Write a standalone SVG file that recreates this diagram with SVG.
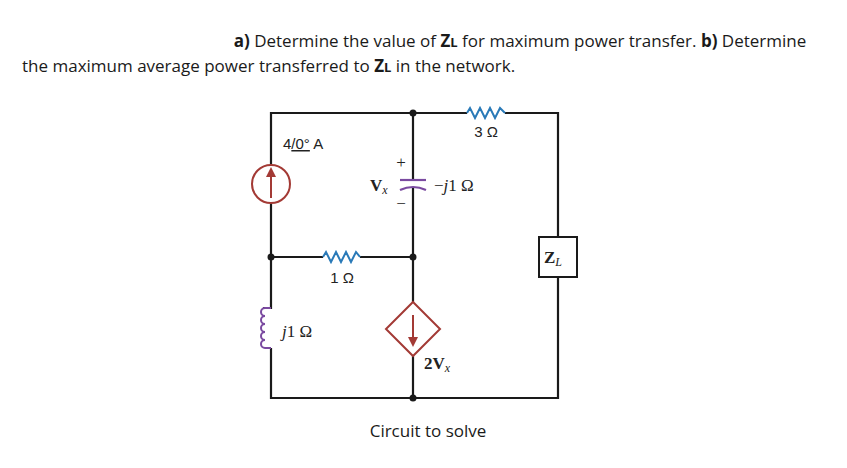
<svg xmlns="http://www.w3.org/2000/svg" width="847" height="468" viewBox="0 0 847 468">
<style>
.w{stroke:#1a1a1a;stroke-width:2.2;fill:none}
.t{font-family:"Open Sans","Liberation Sans",sans-serif;font-size:17px;fill:#1a1a1a}
.c{font-family:"Liberation Serif",serif;font-size:17px;fill:#222}
.s{font-family:"Liberation Sans",sans-serif;font-size:15px;fill:#222}
.res{stroke:#2a7ab8;stroke-width:2;fill:none}
.red{stroke:#a33a35;stroke-width:2;fill:#fff}
</style>
<defs><marker id="ah" viewBox="0 0 10 10" refX="5" refY="5" markerWidth="5" markerHeight="5" orient="auto"><path d="M0,0L10,5L0,10z" fill="#a33a35"/></marker></defs>
<rect width="847" height="468" fill="#fff"/>
<text class="t" x="520" y="47" text-anchor="middle"><tspan font-weight="bold">a)</tspan> Determine the value of <tspan font-weight="bold">Z<tspan font-size="13">L</tspan></tspan> for maximum power transfer. <tspan font-weight="bold">b)</tspan> Determine</text>
<text class="t" x="22" y="72">the maximum average power transferred to <tspan font-weight="bold">Z<tspan font-size="13">L</tspan></tspan> in the network.</text>
<g id="wires">
<path class="w" d="M271,164V113H467M505,113H558V237M558,277V398H271V348M263,308H271V204M271,257H323M360,257H413M413,113V180M413,188V302M413,356V398"/>
</g>
<g id="src"><circle class="red" cx="271" cy="184" r="19"/><line x1="271" y1="198" x2="271" y2="172" stroke="#a33a35" stroke-width="2" marker-end="url(#ah)"/>
<text class="s" x="283" y="149">4<tspan text-decoration="underline">/0°</tspan> A</text></g>
<g id="r3"><path class="res" d="M467,113l3,-5l5,10l5,-10l5,10l5,-10l5,10l5,-10l5,5"/><text class="s" x="486" y="137" text-anchor="middle">3 Ω</text></g>
<g id="cap"><line x1="400" y1="180" x2="426" y2="180" stroke="#7a4aa0" stroke-width="2.2"/><path d="M400,190Q413,184 426,190" stroke="#7a4aa0" stroke-width="2.2" fill="none"/>
<text class="c" x="401" y="168" text-anchor="middle">+</text><text class="c" x="401" y="209" text-anchor="middle">−</text>
<text class="c" x="370" y="191" font-weight="bold">V<tspan font-size="12" font-style="italic" font-weight="normal" dy="3">x</tspan></text>
<text class="c" x="434" y="191">−<tspan font-style="italic">j</tspan>1 Ω</text></g>
<g id="r1"><path class="res" d="M323,257l3,-5l5,10l5,-10l5,10l5,-10l5,10l5,-10l4,5"/><text class="s" x="342" y="283" text-anchor="middle">1 Ω</text></g>
<g id="ind"><path d="M271,308h-6a4,4 0 0 0 0,8a4,4 0 0 0 0,8a4,4 0 0 0 0,8a4,4 0 0 0 0,8a4,4 0 0 0 0,8h6" stroke="#7a4aa0" stroke-width="2" fill="none"/>
<text class="c" x="282" y="337"><tspan font-style="italic">j</tspan>1 Ω</text></g>
<g id="dep"><path class="red" d="M413,302L440,329L413,356L386,329z"/><line x1="413" y1="315" x2="413" y2="342" stroke="#a33a35" stroke-width="2" marker-end="url(#ah)"/>
<text class="c" x="424" y="369" font-weight="bold">2V<tspan font-size="12" font-style="italic" font-weight="normal" dy="3">x</tspan></text></g>
<g id="zl"><rect x="539" y="237" width="38" height="40" fill="#fff" stroke="#1a1a1a" stroke-width="2"/><text class="c" x="544" y="263" font-weight="bold">Z<tspan font-size="12" font-style="italic" font-weight="normal" dy="3">L</tspan></text></g>
<g id="dots" fill="#1a1a1a"><circle cx="413" cy="113" r="3.5"/><circle cx="271" cy="257" r="3.5"/><circle cx="413" cy="257" r="3.5"/><circle cx="413" cy="398" r="3.5"/></g>
<text class="t" x="428" y="437" text-anchor="middle">Circuit to solve</text>
</svg>
